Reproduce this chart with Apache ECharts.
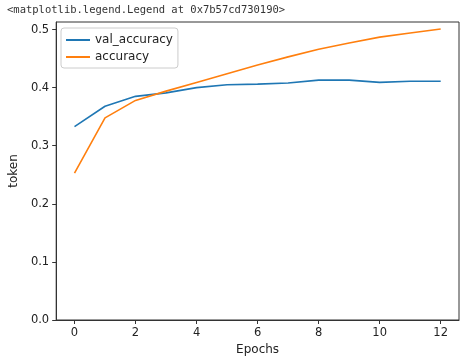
<!DOCTYPE html>
<html><head><meta charset="utf-8">
<script src="https://cdn.jsdelivr.net/npm/echarts@6/dist/echarts.min.js"></script>
<style>html,body{margin:0;padding:0;background:#fff}#c{width:474px;height:361px}</style>
</head><body><div id="c"></div>
<script>
const epochs = [0,1,2,3,4,5,6,7,8,9,10,11,12];
const valAccuracy = [0.333,0.368,0.385,0.391,0.400,0.405,0.406,0.408,0.413,0.413,0.409,0.411,0.411];
const accuracy = [0.253,0.348,0.378,0.394,0.409,0.424,0.439,0.453,0.466,0.477,0.487,0.494,0.501];
const xTicks = [0,2,4,6,8,10,12];
const yTicks = [0,0.1,0.2,0.3,0.4,0.5];

const chart = echarts.init(document.getElementById('c'));
const font = 'DejaVu Sans';
chart.setOption({
  animation:false,
  backgroundColor:'#fff',
  title:{text:'<matplotlib.legend.Legend at 0x7b57cd730190>',left:2,top:0,
    textStyle:{fontFamily:'DejaVu Sans Mono',fontSize:10.5,fontWeight:'normal',color:'#333'}},
  grid:{left:55,right:15,top:22,bottom:37,show:true,borderColor:'#333',borderWidth:1,backgroundColor:'transparent'},
  legend:{data:['val_accuracy','accuracy'],orient:'vertical',left:61,top:28,
    itemWidth:24,itemHeight:2,itemGap:5,itemStyle:{},padding:[6,5,5,5],
    borderColor:'#ccc',borderWidth:1,borderRadius:3,backgroundColor:'rgba(255,255,255,0.8)',
    textStyle:{fontFamily:font,fontSize:12,color:'#222'},icon:'rect'},
  xAxis:{type:'value',min:-0.6,max:12.6,name:'Epochs',nameLocation:'middle',nameGap:24,
    nameTextStyle:{fontFamily:font,fontSize:12,color:'#222'},
    axisLine:{show:true,onZero:false,lineStyle:{color:'#333'}},
    axisTick:{show:true,length:4,customValues:xTicks,lineStyle:{color:'#333'}},
    axisLabel:{customValues:xTicks,fontFamily:font,fontSize:11.5,color:'#222',margin:7},
    splitLine:{show:false}},
  yAxis:{type:'value',min:0,max:0.513,name:'token',nameLocation:'middle',nameGap:32,
    nameTextStyle:{fontFamily:font,fontSize:12,color:'#222'},
    axisLine:{show:true,onZero:false,lineStyle:{color:'#333'}},
    axisTick:{show:true,length:4,customValues:yTicks,lineStyle:{color:'#333'}},
    axisLabel:{customValues:yTicks,fontFamily:font,fontSize:11.5,color:'#222',margin:7,
      formatter:v=>v.toFixed(1)},
    splitLine:{show:false}},
  series:[
    {name:'val_accuracy',type:'line',data:epochs.map((e,i)=>[e,valAccuracy[i]]),
      showSymbol:false,color:'#1f77b4',lineStyle:{width:1.6,color:'#1f77b4'}},
    {name:'accuracy',type:'line',data:epochs.map((e,i)=>[e,accuracy[i]]),
      showSymbol:false,color:'#ff7f0e',lineStyle:{width:1.6,color:'#ff7f0e'}}
  ]
});
</script></body></html>
